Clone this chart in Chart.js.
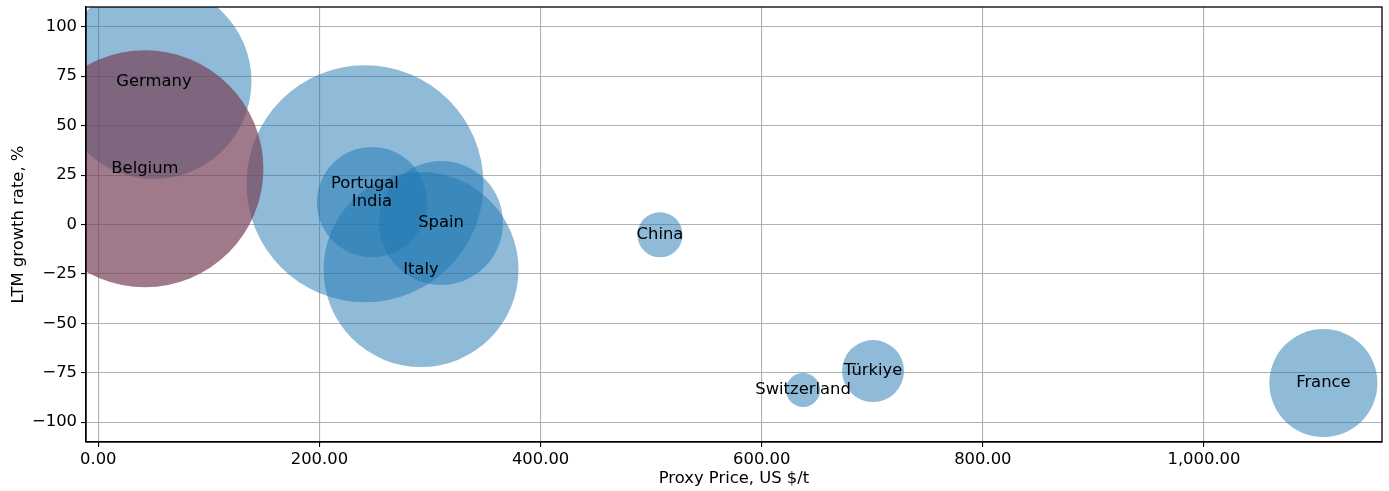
<!DOCTYPE html>
<html>
<head>
<meta charset="utf-8">
<script src="https://cdn.jsdelivr.net/npm/chart.js@4/dist/chart.umd.min.js"></script>
<style>
  html, body { margin: 0; padding: 0; background: #fff; }
  #wrap { width: 1389px; height: 491px; }
</style>
</head>
<body>
<div id="wrap"><canvas id="chart" width="1389" height="491"></canvas></div>
<script>
// values
const countries = ['Germany', 'Portugal', 'Belgium', 'India', 'Spain', 'Italy', 'China', 'Switzerland', 'Türkiye', 'France'];
const proxyPrice = [50.4, 241.2, 42.2, 247.5, 310.0, 291.9, 508.0, 637.4, 700.7, 1108.0];
const growthRate = [72.4, 20.6, 28.2, 11.3, 0.8, -22.8, -5.2, -83.7, -74.1, -80.2];
const volume = [950, 1404, 1404, 303, 384, 950, 51, 29, 96, 292];
const xTicks = [0, 200, 400, 600, 800, 1000];
const yTicks = [-100, -75, -50, -25, 0, 25, 50, 75, 100];

const FONT = 'DejaVu Sans';
const FS = 16.4;
const blue = 'rgba(31,119,180,0.5)';
const mauve = 'rgba(119,66,89,0.7)';

const points = countries.map((c, i) => ({
    x: proxyPrice[i],
    y: growthRate[i],
    r: Math.sqrt(volume[i] * 10)
}));

const labelsPlugin = {
    id: 'bubbleLabels',
    afterDatasetsDraw(chart) {
        const ctx = chart.ctx;
        const xs = chart.scales.x, ys = chart.scales.y;
        ctx.save();
        ctx.font = FS + 'px "' + FONT + '"';
        ctx.fillStyle = '#000';
        ctx.textAlign = 'center';
        ctx.textBaseline = 'middle';
        countries.forEach((c, i) => {
            ctx.fillText(c, xs.getPixelForValue(proxyPrice[i]), ys.getPixelForValue(growthRate[i]));
        });
        ctx.restore();
    }
};

const framePlugin = {
    id: 'frame',
    afterDraw(chart) {
        const a = chart.chartArea;
        const ctx = chart.ctx;
        ctx.save();
        ctx.strokeStyle = '#000';
        ctx.lineWidth = 1.3;
        ctx.strokeRect(a.left, a.top, a.right - a.left, a.bottom - a.top);
        ctx.restore();
    }
};

new Chart(document.getElementById('chart').getContext('2d'), {
    type: 'bubble',
    data: {
        datasets: [{
            data: points,
            backgroundColor: countries.map(c => c === 'Belgium' ? mauve : blue),
            borderWidth: 0,
            clip: 0
        }]
    },
    options: {
        responsive: false,
        animation: false,
        events: [],
        layout: { autoPadding: false, padding: { top: 7, right: 7, left: 0, bottom: 0 } },
        plugins: { legend: { display: false }, tooltip: { enabled: false } },
        scales: {
            x: {
                type: 'linear',
                min: -11.1,
                max: 1161,
                afterBuildTicks: s => { s.ticks = xTicks.map(v => ({ value: v })); },
                afterFit: s => { s.height = 49; s.paddingLeft = 0; s.paddingRight = 0; },
                grid: { color: '#b0b0b0', lineWidth: 1.1, tickColor: '#000', tickLength: 5 },
                border: { display: true, color: '#000', width: 1.3 },
                ticks: {
                    color: '#000', padding: 3, maxRotation: 0,
                    font: { family: FONT, size: FS },
                    callback: v => v.toLocaleString('en-US', { minimumFractionDigits: 2, maximumFractionDigits: 2 })
                },
                title: {
                    display: true, text: 'Proxy Price, US $/t', color: '#000',
                    font: { family: FONT, size: FS }, padding: { top: 0, bottom: 2.2 }
                }
            },
            y: {
                type: 'linear',
                min: -110,
                max: 110,
                afterBuildTicks: s => { s.ticks = yTicks.map(v => ({ value: v })); },
                afterFit: s => { s.width = 86; s.paddingTop = 0; s.paddingBottom = 0; },
                grid: { color: '#b0b0b0', lineWidth: 1.1, tickColor: '#000', tickLength: 5 },
                border: { display: true, color: '#000', width: 1.3 },
                ticks: {
                    color: '#000', padding: 4,
                    font: { family: FONT, size: FS },
                    callback: v => String(v).replace('-', '\u2212')
                },
                title: {
                    display: true, text: 'LTM growth rate, %', color: '#000',
                    font: { family: FONT, size: FS }, padding: { top: 8.8, bottom: 0 }
                }
            }
        }
    },
    plugins: [labelsPlugin, framePlugin]
});
</script>
</body>
</html>
